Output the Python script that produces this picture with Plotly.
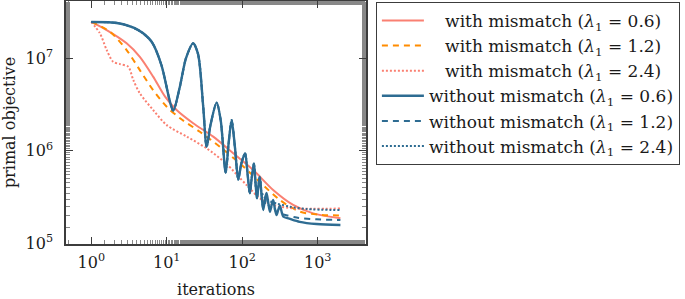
import plotly.graph_objects as go

# ---------------- data ----------------
it_with_06 = [1, 1.6, 2.94, 4.4, 6.6, 9.5, 13.5, 22.4, 41.3, 76, 140, 257, 473, 871, 2000]
val_with_06 = [2.45e7, 2.0e7, 1.44e7, 1.03e7, 6.3e6, 3.83e6, 2.75e6, 1.98e6, 1.42e6,
               9.4e5, 6.2e5, 3.77e5, 2.6e5, 2.11e5, 1.87e5]

it_with_12 = [1, 1.77, 2.94, 4.4, 6.6, 10, 15, 27.5, 50.7, 93, 171, 316, 581, 1070, 2000]
val_with_12 = [2.45e7, 1.92e7, 1.22e7, 7.4e6, 4.5e6, 2.98e6, 2.24e6, 1.6e6, 1.1e6,
               7.3e5, 4.6e5, 2.94e5, 2.2e5, 2.04e5, 2.0e5]

it_with_24 = [1, 1.3, 1.6, 1.95, 2.4, 3.09, 3.6, 4.4, 6.6, 10, 18.4, 33.8, 60.8, 114,
              171, 257, 473, 2000]
val_with_24 = [2.45e7, 1.85e7, 1.22e7, 9.1e6, 8.6e6, 8.05e6, 5.8e6, 4.16e6, 2.75e6,
               1.89e6, 1.42e6, 1.06e6, 7.3e5, 4.27e5, 3.07e5, 2.6e5, 2.39e5, 2.38e5]

it_wo_06 = [1, 2.3, 4.2, 6.3, 8.5, 11, 12.2, 15, 18, 22.4, 26, 30.4, 33.8, 38, 45.8,
            52, 60.3, 66, 72.4, 80, 88.6, 97, 109, 118, 126, 134, 143, 150, 157, 164,
            171, 180, 190, 200, 210, 222, 233, 245, 257, 270, 285, 300, 316, 335, 351,
            420, 577, 966, 2000]
val_wo_06 = [2.45e7, 2.37e7, 2.0e7, 1.5e7, 8.4e6, 3.4e6, 2.7e6, 5.0e6, 1.0e7, 1.44e7,
             1.1e7, 3.0e6, 1.1e6, 1.9e6, 3.3e6, 2.1e6, 5.8e5, 1.2e6, 2.14e6, 1.1e6,
             4.9e5, 7.2e5, 9.4e5, 5.5e5, 3.47e5, 5.2e5, 7.3e5, 4.5e5, 3.07e5, 4.2e5,
             5.25e5, 3.4e5, 2.29e5, 3.0e5, 3.5e5, 2.7e5, 2.2e5, 2.6e5, 2.94e5, 2.4e5,
             2.02e5, 2.3e5, 2.55e5, 2.15e5, 1.94e5, 1.85e5, 1.71e5, 1.62e5, 1.58e5]

it_wo_12 = [1, 2.3, 4.2, 6.3, 8.5, 11, 12.2, 15, 18, 22.4, 26, 30.4, 33.8, 38, 45.8,
            52, 60.3, 66, 72.4, 80, 88.6, 97, 109, 118, 126, 134, 143, 150, 157, 164,
            171, 180, 190, 210, 233, 257, 285, 350, 525, 966, 2000]
val_wo_12 = [2.45e7, 2.37e7, 2.0e7, 1.5e7, 8.4e6, 3.4e6, 2.7e6, 5.0e6, 1.0e7, 1.44e7,
             1.1e7, 3.0e6, 1.1e6, 1.9e6, 3.3e6, 2.1e6, 5.8e5, 1.2e6, 2.14e6, 1.1e6,
             4.9e5, 7.2e5, 9.4e5, 5.5e5, 3.47e5, 5.2e5, 7.3e5, 4.5e5, 3.07e5, 4.2e5,
             5.25e5, 3.4e5, 2.35e5, 3.0e5, 2.4e5, 2.55e5, 2.15e5, 2.05e5, 1.9e5,
             1.82e5, 1.79e5]

it_wo_24 = [1, 2.3, 4.2, 6.3, 8.5, 11, 12.2, 15, 18, 22.4, 26, 30.4, 33.8, 38, 45.8,
            52, 60.3, 66, 72.4, 80, 88.6, 97, 109, 118, 126, 134, 143, 150, 157, 164,
            171, 180, 200, 233, 285, 428, 713, 2000]
val_wo_24 = [2.45e7, 2.37e7, 2.0e7, 1.5e7, 8.4e6, 3.4e6, 2.7e6, 5.0e6, 1.0e7, 1.44e7,
             1.1e7, 3.0e6, 1.1e6, 1.9e6, 3.3e6, 2.1e6, 5.8e5, 1.2e6, 2.14e6, 1.1e6,
             4.9e5, 7.2e5, 9.4e5, 5.5e5, 3.47e5, 5.2e5, 7.3e5, 4.5e5, 3.07e5, 4.2e5,
             5.25e5, 3.6e5, 3.1e5, 2.85e5, 2.7e5, 2.49e5, 2.35e5, 2.29e5]

x_tickvals = [1, 10, 100, 1000]
x_ticktext = ["10<sup>0</sup>", "10<sup>1</sup>", "10<sup>2</sup>", "10<sup>3</sup>"]
y_tickvals = [1e5, 1e6, 1e7]
y_ticktext = ["10<sup>5</sup>", "10<sup>6</sup>", "10<sup>7</sup>"]

SALMON = "rgb(250,128,114)"
ORANGE = "rgb(255,140,0)"
BLUE = "rgb(46,108,146)"
AX = "#3c3c3c"
TXT = "#1a1a1a"
FONT = "DejaVu Serif"
NB = "\u00a0"

series = [
    (it_with_06, val_with_06, NB * 3 + "with mismatch (<i>λ</i><sub>1</sub> = 0.6)", SALMON, "solid", 2),
    (it_with_12, val_with_12, NB * 3 + "with mismatch (<i>λ</i><sub>1</sub> = 1.2)", ORANGE, "6px,5px", 2),
    (it_with_24, val_with_24, NB * 3 + "with mismatch (<i>λ</i><sub>1</sub> = 2.4)", SALMON, "2px,2px", 2),
    (it_wo_06, val_wo_06, "without mismatch (<i>λ</i><sub>1</sub> = 0.6)", BLUE, "solid", 2.4),
    (it_wo_12, val_wo_12, "without mismatch (<i>λ</i><sub>1</sub> = 1.2)", BLUE, "6px,5px", 2),
    (it_wo_24, val_wo_24, "without mismatch (<i>λ</i><sub>1</sub> = 2.4)", BLUE, "2px,2px", 2),
]

fig = go.Figure()
for i, (xs, ys, name, col, dash, w) in enumerate(series):
    fig.add_trace(go.Scatter(
        x=xs, y=ys, name=name, mode="lines",
        line=dict(color=col, dash=dash, width=w, shape="spline", smoothing=0.8),
        legendgroup=str(i),
    ))

axis_common = dict(
    type="log", showline=True, linecolor=AX, linewidth=1.5, mirror="allticks",
    ticks="inside", ticklen=7, tickcolor=AX, tickwidth=1,
    showgrid=False, zeroline=False,
    tickfont=dict(family=FONT, size=16, color=TXT),
    minor=dict(ticks="inside", ticklen=4, tickcolor="#888", tickwidth=1, showgrid=False),
)

fig.update_xaxes(
    **axis_common, range=[-0.335, 3.640],
    tickvals=x_tickvals, ticktext=x_ticktext, ticklabelstandoff=3,
    title=dict(text="iterations", font=dict(family=FONT, size=16, color=TXT), standoff=27),
)
fig.update_yaxes(
    **axis_common, range=[4.994, 7.615],
    tickvals=y_tickvals, ticktext=y_ticktext, ticklabelstandoff=8,
    title=dict(text="primal objective", font=dict(family=FONT, size=16, color=TXT), standoff=8),
)

fig.update_layout(
    width=685, height=299,
    margin=dict(l=66, r=319, t=1, b=55, autoexpand=False),
    paper_bgcolor="white", plot_bgcolor="white",
    showlegend=True,
    legend=dict(
        x=1.033, y=0.996, xanchor="left", yanchor="top",
        bgcolor="white", bordercolor=AX, borderwidth=1,
        font=dict(family=FONT, size=17, color=TXT),
        tracegroupgap=0, itemwidth=42,
    ),
)

fig.write_html("out.html", config={"displayModeBar": False},
               post_script="document.body.style.margin='0';")
